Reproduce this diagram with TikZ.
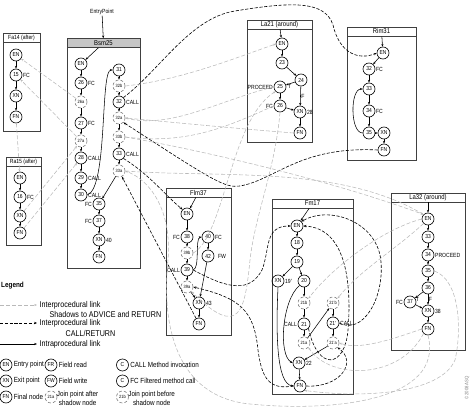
\documentclass[tikz,border=0pt]{standalone}
\usepackage{fontspec}
\setmainfont{Liberation Sans}[FakeStretch=0.85]
\usetikzlibrary{positioning,arrows.meta}

\begin{document}
\begin{tikzpicture}[x=1pt,y=-1pt,
    every node/.style={font=\fontsize{5.8}{6.5}\selectfont},
    cfgn/.style={circle, draw, line width=0.6pt, inner sep=0pt, minimum size=12pt},
    joinn/.style={cfgn, densely dashed, draw=gray, font=\fontsize{4.6}{5}\selectfont},
    tag/.style={inner sep=0.6pt, font=\fontsize{6}{7}\selectfont},
    legtext/.style={inner sep=0.5pt, font=\fontsize{8.4}{9.5}\selectfont},
    keytext/.style={inner sep=0.5pt, font=\fontsize{7.4}{8.8}\selectfont},
    procbox/.style={draw=black!75, line width=0.7pt},
    titlebar/.style={draw=black!75, line width=0.6pt, inner sep=0pt, minimum height=9pt, font=\fontsize{7}{8}\selectfont},
    intra/.style={-{Stealth[length=2.8pt,width=2.2pt]}, line width=0.55pt},
    callret/.style={dash pattern=on 3.2pt off 1.6pt, -{Stealth[length=3pt,width=2.4pt]}, line width=0.6pt},
    shadowlink/.style={dash pattern=on 4pt off 2pt, draw=gray!55, -{Stealth[length=2.8pt,width=2.2pt]}, line width=0.55pt},
  ]
  \useasboundingbox (0,0) rectangle (474,414);

  % Fa14 (after)
  \draw[procbox] (3,33) rectangle (40,131);
  \node[titlebar, minimum width=37pt, font=\fontsize{6}{7}\selectfont] (faT) at (21.5,37.5) {Fa14 (after)};
  \node[cfgn] (faEN) at (16,55) {EN};
  \node[cfgn, label={[tag]right:FC}] (fa15) at (16,75) {15};
  \node[cfgn] (faXN) at (16,96) {XN};
  \node[cfgn] (faFN) at (16,117) {FN};

  % Ra15 (after)
  \draw[procbox] (6,157) rectangle (41,245);
  \node[titlebar, minimum width=35pt, font=\fontsize{6}{7}\selectfont] (raT) at (23.5,161.5) {Ra15 (after)};
  \node[cfgn] (raEN) at (20,178) {EN};
  \node[cfgn, label={[tag]right:FC}] (ra16) at (20,197) {16};
  \node[cfgn] (raXN) at (20,216) {XN};
  \node[cfgn] (raFN) at (20,233) {FN};

  % Bsm25
  \node[tag] (ep) at (102,12) {EntryPoint};
  \draw[procbox] (67,38) rectangle (140,268);
  \node[titlebar, fill=gray!45, minimum width=73pt] (bsT) at (103.5,43) {Bsm25};
  \node[cfgn] (bsEN) at (81,64) {EN};
  \node[cfgn, label={[tag]right:FC}] (bs26) at (81,83) {26};
  \node[joinn] (bs26a) at (81,102) {26a};
  \node[cfgn, label={[tag]right:FC}] (bs27) at (81,123) {27};
  \node[joinn] (bs27a) at (81,141) {27a};
  \node[cfgn, label={[tag]right:CALL}] (bs28) at (81,158) {28};
  \node[cfgn, label={[tag]right:CALL}] (bs29) at (81,178) {29};
  \node[cfgn, label={[tag]right:CALL}] (bs30) at (81,195) {30};
  \node[cfgn] (bs31) at (119,70) {31};
  \node[joinn] (bs32b) at (119,86) {32b};
  \node[cfgn, label={[tag]right:CALL}] (bs32) at (119,102) {32};
  \node[joinn] (bs32a) at (119,118) {32a};
  \node[joinn] (bs33b) at (119,137) {33b};
  \node[cfgn, label={[tag]right:CALL}] (bs33) at (119,154) {33};
  \node[joinn] (bs33a) at (119,171) {33a};
  \node[cfgn, label={[tag]left:FC}] (bs35) at (99,204) {35};
  \node[cfgn, label={[tag]left:FC}] (bs37) at (99,221) {37};
  \node[cfgn, label={[tag]right:40}] (bsXN) at (99,240) {XN};
  \node[cfgn] (bsFN) at (99,257) {FN};

  % Flm37
  \draw[procbox] (166,188) rectangle (231,335);
  \node[titlebar, minimum width=65pt] (flT) at (198.5,192.5) {Flm37};
  \node[cfgn] (flEN) at (187,214) {EN};
  \node[cfgn, label={[tag]left:FC}] (fl38) at (187,237) {38};
  \node[joinn] (fl39b) at (187,253) {39b};
  \node[cfgn, label={[tag]left:CALL}] (fl39) at (187,270) {39};
  \node[joinn] (fl39a) at (187,287) {39a};
  \node[cfgn, label={[tag]right:43}] (flXN) at (199,303) {XN};
  \node[cfgn] (flFN) at (199,324) {FN};
  \node[cfgn, label={[tag]right:FC}] (fl40) at (208,237) {40};
  \node[cfgn, label={[tag,xshift=3pt]right:FW}] (fl42) at (208,256) {42};

  % La21 (around)
  \draw[procbox] (247,20) rectangle (312,142);
  \node[titlebar, minimum width=65pt] (laT) at (279.5,24.5) {La21 (around)};
  \node[cfgn] (laEN) at (282,44) {EN};
  \node[cfgn] (la23) at (282,63) {23};
  \node[cfgn] (la24) at (301,80) {24};
  \node[cfgn, label={[tag]left:PROCEED}] (la25) at (280,87) {25};
  \node[cfgn, label={[tag]left:FC}] (la26) at (280,106) {26};
  \node[cfgn, label={[tag]right:28}] (laXN) at (300,112) {XN};
  \node[cfgn] (laFN) at (300,133) {FN};

  % Rim31
  \draw[procbox] (347,27) rectangle (416,160);
  \node[titlebar, minimum width=69pt] (rmT) at (381.5,31.5) {Rim31};
  \node[cfgn] (rmEN) at (383,53) {EN};
  \node[cfgn, label={[tag]right:FC}] (rm32) at (369,69) {32};
  \node[cfgn] (rm33) at (369,89) {33};
  \node[cfgn, label={[tag]right:FC}] (rm34) at (369,111) {34};
  \node[cfgn] (rm35) at (369,133) {35};
  \node[cfgn] (rmXN) at (384,133) {XN};
  \node[cfgn] (rmFN) at (384,150) {FN};

  % Fm17
  \draw[procbox] (272,199) rectangle (353,394);
  \node[titlebar, minimum width=81pt] (fmT) at (312.5,203.5) {Fm17};
  \node[cfgn] (fmEN) at (297,226) {EN};
  \node[cfgn] (fm18) at (297,243) {18};
  \node[cfgn] (fm19) at (297,262) {19};
  \node[cfgn, label={[tag]right:19'}] (fmXNp) at (278,281) {XN};
  \node[cfgn] (fm20) at (304,281) {20};
  \node[joinn] (fm21b) at (304,303) {21b};
  \node[cfgn, label={[tag]left:CALL}] (fm21) at (304,324) {21};
  \node[joinn] (fm21a) at (304,343) {21a};
  \node[joinn] (fm21pb) at (333,303) {21'b};
  \node[cfgn, label={[tag]right:CALL}] (fm21p) at (333,323) {21'};
  \node[joinn] (fm21pa) at (333,343) {21'a};
  \node[cfgn, label={[tag]right:22}] (fmXN) at (299,363) {XN};
  \node[cfgn] (fmFN) at (300,386) {FN};

  % La32 (around)
  \draw[procbox] (391,193) rectangle (465,350);
  \node[titlebar, minimum width=74pt] (lbT) at (428,197.5) {La32 (around)};
  \node[cfgn] (lbEN) at (428,219) {EN};
  \node[cfgn] (lb33) at (428,237) {33};
  \node[cfgn, label={[tag]right:PROCEED}] (lb34) at (428,255) {34};
  \node[cfgn] (lb35) at (428,271) {35};
  \node[cfgn] (lb36) at (428,288) {36};
  \node[cfgn, label={[tag]left:FC}] (lb37) at (410,302) {37};
  \node[cfgn, label={[tag]right:38}] (lbXN) at (428,311) {XN};
  \node[cfgn] (lbFN) at (428,329) {FN};

  % intraprocedural edges
  \foreach \a/\b in {faEN/fa15, fa15/faXN, faXN/faFN, raEN/ra16, ra16/raXN, raXN/raFN,
      ep/bsT, bsT/bsEN, bsEN/bs26, bs26/bs26a, bs26a/bs27, bs27/bs27a, bs27a/bs28, bs28/bs29, bs29/bs30,
      bs31/bs32b, bs32b/bs32, bs32/bs32a, bs32a/bs33b, bs33b/bs33, bs33/bs33a, bs33a/bs35,
      bs35/bs37, bs37/bsXN, bsXN/bsFN,
      flT/flEN, flEN/fl38, fl38/fl39b, fl39b/fl39, fl39/fl39a, fl39a/flXN, fl40/fl42, fl42/flXN, flXN/flFN,
      laT/laEN, laEN/la23, la23/la24, la25/la26, la26/laXN, laXN/laFN,
      rmT/rmEN, rmEN/rm32, rm32/rm33, rm33/rm34, rm34/rm35, rm35/rmXN, rmXN/rmFN,
      fmT/fmEN, fmEN/fm18, fm18/fm19, fm19/fmXNp, fm19/fm20, fm20/fm21b, fm21b/fm21, fm21/fm21a,
      fm21a/fm21pb, fm21pb/fm21p, fm21p/fm21pa, fm21pa/fmXN, fmXN/fmFN,
      lbT/lbEN, lbEN/lb33, lb33/lb34, lb34/lb35, lb35/lb36, lb37/lbXN, lbXN/lbFN}
    \draw[intra] (\a) -- (\b);
  \draw[intra] (la24) -- node[tag, below, pos=0.6] {T} (la25);
  \draw[intra] (la24) -- node[tag, right] {F} (laXN);
  \draw[intra] (lb36) -- node[tag, below, pos=0.7] {T} (lb37);
  \draw[intra] (lb36) -- node[tag, right] {F} (lbXN);
  \draw[intra] (bs30.east) .. controls (108,188) and (100,70) .. (bs31.west);
  \draw[intra] (fl39.east) .. controls (200,268) and (195,238) .. (fl40.west);
  \draw[intra] (rm35.west) .. controls (350,133) and (350,89) .. (rm33.west);
  \draw[intra] (fm20.south west) .. controls (282,300) and (278,355) .. (fmXN.west);
  \draw[intra] (fmXNp.south) .. controls (276,330) and (276,384) .. (fmFN.west);

  % interprocedural CALL/RETURN
  \draw[callret] (bs32.north east) .. controls (160,70) and (190,18) .. (235,11)
    .. controls (290,2) and (325,0) .. (333,25) .. controls (340,55) and (360,60) .. (rmEN.west);
  \draw[callret] (rmFN.west) .. controls (300,146) and (275,180) .. (240,186)
    .. controls (225,188) and (215,182) .. (bs32a.south east);
  \draw[callret] (bs33.south east) .. controls (150,175) and (165,195) .. (flEN.north west);
  \draw[callret] (flFN) -- (bs33a);
  \draw[callret] (fl39.east) .. controls (230,290) and (250,292) .. (262,270)
    .. controls (270,250) and (264,226) .. (fmEN.west);
  \draw[callret] (fmFN.west) .. controls (270,390) and (262,380) .. (258,350)
    .. controls (254,310) and (240,298) .. (fl39a.east);
  \draw[callret] (fm21.south east) .. controls (318,372) and (345,368) .. (348,330)
    .. controls (352,280) and (345,228) .. (fmEN.east);
  \draw[callret] (fm21p.east) .. controls (362,335) and (384,300) .. (381,262)
    .. controls (378,222) and (330,205) .. (fmEN.north east);
  \draw[callret] (fmFN.east) .. controls (340,388) and (358,362) .. (fm21pa.south east);

  % shadow links
  \draw[shadowlink] (bs26a) -- (faEN);
  \draw[shadowlink] (bs27a) -- (fa15);
  \draw[shadowlink] (faFN) -- (raEN);
  \draw[shadowlink] (raXN) -- (bs27a);
  \draw[shadowlink] (raFN) -- (bs28);
  \draw[shadowlink] (bs32b.east) .. controls (180,80) and (230,60) .. (laEN.west);
  \draw[shadowlink] (bs32a.east) .. controls (170,130) and (220,100) .. (la25.west);
  \draw[shadowlink] (laFN.west) .. controls (230,128) and (170,122) .. (bs32a.east);
  \draw[shadowlink] (bs33b.east) .. controls (190,145) and (230,125) .. (la26.west);
  \draw[shadowlink] (bs33b.east) .. controls (200,150) and (330,180) .. (lbEN.north west);
  \draw[shadowlink] (bs33a.east) .. controls (220,178) and (340,165) .. (lbEN.north west);
  \draw[shadowlink] (lbFN.south) .. controls (445,402) and (330,412) .. (250,404)
    .. controls (185,398) and (160,340) .. (168,260) .. controls (172,210) and (150,180) .. (bs33a.east);
  \draw[shadowlink] (fl39b.east) .. controls (225,235) and (230,120) .. (la25.south west);
  \draw[shadowlink] (la26.south) .. controls (275,170) and (255,215) .. (250,260)
    .. controls (245,310) and (240,340) .. (fl39a.south east);
  \draw[shadowlink] (lbEN.west) .. controls (380,230) and (330,270) .. (fm21b.north east);
  \draw[shadowlink] (lbEN.south west) .. controls (395,250) and (360,270) .. (fm21pb.north east);
  \draw[shadowlink] (lbFN.south west) .. controls (400,380) and (330,380) .. (fm21a.south east);
  \draw[shadowlink] (lbFN.west) .. controls (390,340) and (360,350) .. (fm21pa.east);
  \draw[shadowlink] (lb35.east) .. controls (460,280) and (462,330) .. (455,360)
    .. controls (440,395) and (360,398) .. (fmFN.south east);

  % legend
  \node[inner sep=0pt, anchor=west, font=\bfseries\fontsize{7.5}{8}\selectfont] (lgT) at (1,286) {Legend};
  \coordinate (lgA1) at (0,305); \coordinate (lgA2) at (37,305);
  \coordinate (lgB1) at (0,323); \coordinate (lgB2) at (37,323);
  \coordinate (lgC1) at (0,344); \coordinate (lgC2) at (37,344);
  \draw[shadowlink] (lgA1) -- (lgA2);
  \draw[callret] (lgB1) -- (lgB2);
  \draw[intra] (lgC1) -- (lgC2);
  \node[legtext, anchor=west] (lgA) at (39,305) {Interprocedural link};
  \node[legtext, anchor=west] (lgAx) at (49,314) {Shadows to ADVICE and RETURN};
  \node[legtext, anchor=west] (lgB) at (39,323) {Interprocedural link};
  \node[legtext, anchor=west] (lgBx) at (65,333) {CALL/RETURN};
  \node[legtext, anchor=west] (lgC) at (39,344) {Intraprocedural link};

  \node[cfgn] (kEN) at (6,365) {EN};
  \node[keytext, right=0.8pt of kEN] (kENt) {Entry point};
  \node[cfgn] (kXN) at (6,381) {XN};
  \node[keytext, right=0.8pt of kXN] (kXNt) {Exit point};
  \node[cfgn] (kFN) at (6,397) {FN};
  \node[keytext, right=0.8pt of kFN] (kFNt) {Final node};
  \node[cfgn] (kFR) at (51,365) {FR};
  \node[keytext, right=0.8pt of kFR] (kFRt) {Field read};
  \node[cfgn] (kFW) at (51,381) {FW};
  \node[keytext, right=0.8pt of kFW] (kFWt) {Field write};
  \node[joinn] (kJa) at (51,397) {21a};
  \node[keytext, anchor=north west, align=center] (kJat) at ([xshift=0.8pt,yshift=2pt]kJa.north east) {Join point after\\shadow node};
  \node[cfgn] (kC1) at (122.5,365) {C};
  \node[keytext, right=0.8pt of kC1] (kC1t) {CALL Method invocation};
  \node[cfgn] (kC2) at (122.5,381) {C};
  \node[keytext, right=0.8pt of kC2] (kC2t) {FC Filtered method call};
  \node[joinn] (kJb) at (122.5,397) {21b};
  \node[keytext, anchor=north west, align=center] (kJbt) at ([xshift=0.8pt,yshift=2pt]kJb.north east) {Join point before\\shadow node};

  \node[rotate=90, font=\fontsize{5}{5}\selectfont, text=gray] (cpy) at (467,388) {\copyright\ 2008 ASQ};
\end{tikzpicture}
\end{document}
